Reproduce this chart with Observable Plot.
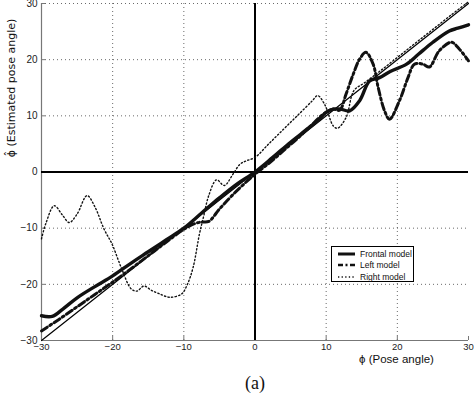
<!DOCTYPE html>
<html><head><meta charset="utf-8">
<script src="https://cdn.jsdelivr.net/npm/d3@7"></script>
<script src="https://cdn.jsdelivr.net/npm/@observablehq/plot@0.6"></script>
<style>
body{margin:0;background:#fff;}
#wrap{position:relative;width:474px;height:399px;font-family:"Liberation Sans",Arial,sans-serif;}
#legend{position:absolute;left:331px;top:246px;width:81px;height:34px;border:1px solid #000;background:#fff;font-size:8.5px;color:#111;}
#legend .row{position:absolute;left:0;height:10px;line-height:10px;}
#legend svg{position:absolute;left:5px;top:0;}
#legend span{position:absolute;left:28px;top:0;white-space:nowrap;}
</style></head><body><div id="wrap"></div>
<script>
const xTicks = [-30, -20, -10, 0, 10, 20, 30];
const yTicks = [-30, -20, -10, 0, 10, 20, 30];
const gridXTicks = [-20, -10, 10, 20];
const gridYTicks = [-20, -10, 10, 20, 30];

const diagX = [-30, 30];
const diagY = [-30, 30];

const frontalX = [-30,-28.5,-27,-25,-22.5,-20,-17.5,-15,-12.5,-10,-7.5,-5,-2.5,0,2.5,5,7.5,9,10,11,12,13.3,14.7,16.1,17.5,19,21.3,23,25,27.3,28.5,30];
const frontalY = [-25.6,-25.7,-24.4,-22.4,-20.4,-18.5,-16.3,-14.2,-12.1,-10,-7.3,-4.6,-2.1,0,2.6,5.3,7.8,9.4,10.6,11.2,11.2,10.9,12.7,16.2,16.8,17.9,19.2,21,23.1,25.1,25.6,26.2];

const leftX = [-30,-27.5,-25,-22.5,-20,-17.5,-15,-12.5,-10,-8.5,-7.5,-6.5,-5,-3,-1,0,2,4,6,8,9.5,11,11.9,12.8,13.8,14.7,15.6,16.6,17.3,18.2,18.9,20.3,21.5,22.4,23.6,24.5,25.9,27.6,28.7,30];
const leftY = [-28.3,-26.2,-24,-21.8,-19.6,-17.3,-14.9,-12.5,-10.2,-9.2,-8.9,-8.8,-6.6,-3.9,-1.5,-0.4,1.6,3.8,6,8.4,10.2,11.2,11.0,13.9,17.4,20.1,21.3,19.2,15.1,10.9,9.4,12.7,16.8,19.2,19.2,18.7,21.6,23.1,21.9,19.8];

const rightX = [-30,-29.4,-28.2,-27.1,-26.1,-25,-23.6,-22.5,-21.2,-20.1,-18.8,-17.4,-16.6,-15.6,-14.5,-13.4,-12,-10.3,-9.5,-8.7,-7.8,-7.2,-6.5,-5.4,-4.3,-3.1,-2.1,-1.2,0,2,4,6,8,8.8,9.8,11,11.6,12.8,13.9,15.3,17.5,20,22.5,25,27.5,30];
const rightY = [-11.9,-9.2,-6,-7.6,-9,-7.5,-4.2,-6.2,-10.2,-12.8,-17,-20.8,-21.2,-20.3,-21.1,-21.7,-22.3,-21.7,-20,-17,-11,-7.8,-4.2,-1.4,-2.4,-0.4,1.4,2,2.6,5.1,7.6,10.1,12.6,13.6,12,8.2,7.8,9.7,14.5,15.8,17.9,20.4,22.9,25.4,27.9,30.3];

const seriesNames = ["Frontal model", "Left model", "Right model"];

const rows = (xs, ys) => xs.map((x, i) => ({x, y: ys[i]}));

const plot = Plot.plot({
  width: 474, height: 399,
  marginLeft: 41, marginRight: 6, marginTop: 3, marginBottom: 59,
  style: {fontFamily: "Liberation Sans, Arial, sans-serif", background: "#fff", overflow: "visible"},
  x: {domain: [-30, 30]},
  y: {domain: [-30, 30]},
  marks: [
    Plot.gridX(gridXTicks, {stroke: "#444", strokeOpacity: 1, strokeWidth: 0.8, strokeDasharray: "1,3"}),
    Plot.gridY(gridYTicks, {stroke: "#444", strokeOpacity: 1, strokeWidth: 0.8, strokeDasharray: "1,3"}),
    Plot.ruleX([-30], {stroke: "#777", strokeWidth: 1.2}),
    Plot.ruleY([-30], {stroke: "#777", strokeWidth: 1.2}),
    Plot.axisX(xTicks, {tickSize: -4, tickPadding: 7, fontSize: 9.5, stroke: "#777", fill: "#222", label: null}),
    Plot.axisY(yTicks, {tickSize: -4, tickPadding: 8, fontSize: 10, stroke: "#777", fill: "#222", label: null}),
    Plot.ruleX([0], {stroke: "#000", strokeWidth: 2}),
    Plot.ruleY([0], {stroke: "#000", strokeWidth: 2}),
    Plot.line(rows(diagX, diagY), {x: "x", y: "y", stroke: "#000", strokeWidth: 1.2}),
    Plot.line(rows(rightX, rightY), {x: "x", y: "y", curve: "catmull-rom", stroke: "#111", strokeWidth: 1.4, strokeDasharray: "1.3,2.3"}),
    Plot.line(rows(leftX, leftY), {x: "x", y: "y", curve: "catmull-rom", stroke: "#111", strokeWidth: 3, strokeDasharray: "7,3,2,3"}),
    Plot.line(rows(frontalX, frontalY), {x: "x", y: "y", curve: "catmull-rom", stroke: "#111", strokeWidth: 3.4}),
    Plot.text(["ϕ (Pose angle)"], {frameAnchor: "bottom", dx: 141.5, dy: 22, fontSize: 11.5, fill: "#111"}),
    Plot.text(["ϕ\u0302 (Estimated pose angle)"], {frameAnchor: "left", textAnchor: "middle", rotate: -90, dx: -30, dy: -84, fontSize: 11, fontFamily: "DejaVu Sans, sans-serif", fill: "#111"}),
    Plot.text(["(a)"], {frameAnchor: "bottom", dy: 48, fontSize: 18, fontFamily: "Liberation Serif, DejaVu Serif, serif", fill: "#111"})
  ]
});
const wrap = document.getElementById("wrap");
wrap.appendChild(plot);

// legend
const legend = document.createElement("div");
legend.id = "legend";
const styles = [
  {w: 3, dash: null},
  {w: 2.6, dash: "5,2.5,2,2.5"},
  {w: 1.4, dash: "1.3,2.3"}
];
seriesNames.forEach((name, i) => {
  const row = document.createElement("div");
  row.className = "row";
  row.style.top = (2 + i * 11.3) + "px";
  row.style.width = "81px";
  row.innerHTML = `<svg width="20" height="10"><line x1="1" x2="18" y1="5" y2="5" stroke="#111" stroke-width="${styles[i].w}" ${styles[i].dash ? `stroke-dasharray="${styles[i].dash}"` : ""}/></svg><span>${name}</span>`;
  legend.appendChild(row);
});
wrap.appendChild(legend);
</script>
</body></html>
